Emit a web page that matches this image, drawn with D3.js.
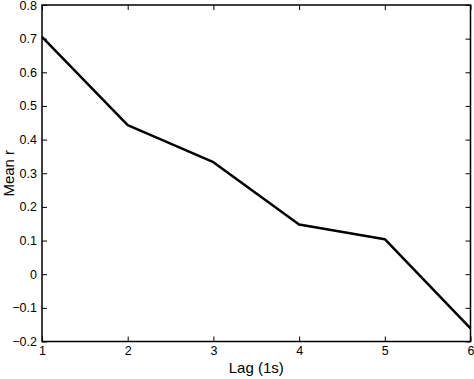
<!DOCTYPE html>
<html><head><meta charset="utf-8">
<script src="https://cdn.jsdelivr.net/npm/d3@7"></script>
<style>body{margin:0;background:#fff}svg{display:block}text{font-family:"Liberation Sans",Arial,sans-serif;fill:#000}</style>
</head><body>
<script>
const lags = [1, 2, 3, 4, 5, 6];
const meanR = [0.705, 0.443, 0.333, 0.148, 0.104, -0.161];
const yTicks = [-0.2, -0.1, 0, 0.1, 0.2, 0.3, 0.4, 0.5, 0.6, 0.7, 0.8];
const xTicks = [1, 2, 3, 4, 5, 6];

const W = 474, H = 379;
const m = {left: 42, right: 3.5, top: 5, bottom: 37.5};
const svg = d3.select("body").append("svg").attr("width", W).attr("height", H);
const x = d3.scaleLinear().domain([1, 6]).range([m.left, W - m.right]);
const y = d3.scaleLinear().domain([-0.2, 0.8]).range([H - m.bottom, m.top]);
const fmt = d => d === 0 ? "0" : d3.format(".1f")(d).replace("-", "\u2212");

const g = svg.append("g");
g.append("g").attr("transform", `translate(0,${H - m.bottom})`)
  .call(d3.axisBottom(x).tickValues(xTicks).tickSizeInner(-5).tickSizeOuter(0).tickPadding(5).tickFormat(d3.format("d")));
g.append("g").attr("transform", `translate(0,${m.top})`)
  .call(d3.axisTop(x).tickValues(xTicks).tickSizeInner(-5).tickSizeOuter(0).tickFormat(""));
g.append("g").attr("transform", `translate(${m.left},0)`)
  .call(d3.axisLeft(y).tickValues(yTicks).tickSizeInner(-5).tickSizeOuter(0).tickPadding(5).tickFormat(fmt));
g.append("g").attr("transform", `translate(${W - m.right},0)`)
  .call(d3.axisRight(y).tickValues(yTicks).tickSizeInner(-5).tickSizeOuter(0).tickFormat(""));
g.selectAll(".domain").remove();
g.selectAll(".tick line").attr("stroke", "#000").attr("stroke-width", 1);
g.selectAll(".tick text").attr("font-size", 12.5).attr("font-family", "Liberation Sans, Arial, sans-serif");

svg.append("rect").attr("x", m.left).attr("y", m.top)
  .attr("width", W - m.right - m.left).attr("height", H - m.bottom - m.top)
  .attr("fill", "none").attr("stroke", "#000").attr("stroke-width", 1.5);

svg.append("path").datum(lags.map((l, i) => [l, meanR[i]]))
  .attr("fill", "none").attr("stroke", "#000").attr("stroke-width", 2.5)
  .attr("stroke-linejoin", "round")
  .attr("d", d3.line().x(d => x(d[0])).y(d => y(d[1])));

svg.append("text").attr("x", (m.left + W - m.right) / 2).attr("y", 373)
  .attr("text-anchor", "middle").attr("font-size", 15).text("Lag (1s)");
svg.append("text").attr("transform", `translate(14,${(m.top + H - m.bottom) / 2}) rotate(-90)`)
  .attr("text-anchor", "middle").attr("font-size", 15).text("Mean r");
</script>
</body></html>
